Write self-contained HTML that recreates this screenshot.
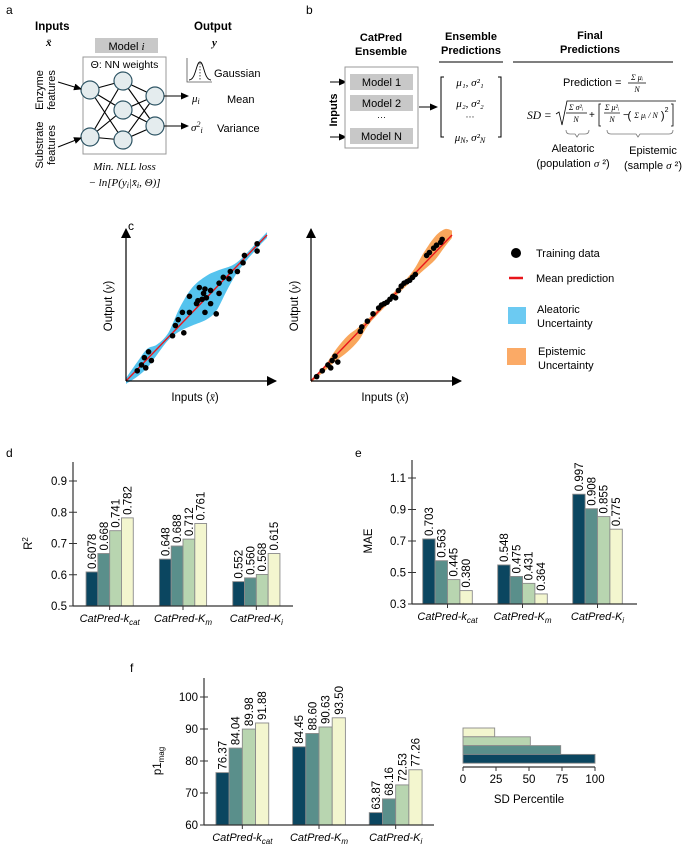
<!DOCTYPE html>
<html><head><meta charset="utf-8">
<style>
html,body{margin:0;padding:0;background:#fff;}
svg{display:block;font-family:"Liberation Sans",sans-serif;}
.serif{font-family:"Liberation Serif",serif;font-style:italic;}
.b{font-weight:bold;}
</style></head>
<body>
<svg id="fig" width="685" height="850" viewBox="0 0 685 850" xmlns="http://www.w3.org/2000/svg">
<defs>
<marker id="arr" markerWidth="8" markerHeight="8" refX="7" refY="4" orient="auto" markerUnits="userSpaceOnUse"><path d="M0,0.5 L8,4 L0,7.5 Z" fill="#000"/></marker>
<marker id="arrBig" markerWidth="10" markerHeight="10" refX="9" refY="5" orient="auto" markerUnits="userSpaceOnUse"><path d="M0,0 L10,5 L0,10 Z" fill="#000"/></marker>
</defs>

<!-- Panel a -->
<g font-size="11">
<text x="6" y="14" font-size="12">a</text>
<text x="35" y="30" class="b" font-size="11.5">Inputs</text>
<text x="46" y="46" class="serif b">x̄</text>
<rect x="95" y="38" width="63" height="15" fill="#c8c8c8"/>
<text x="126.5" y="50" text-anchor="middle">Model <tspan class="serif">i</tspan></text>
<rect x="83" y="57" width="83" height="97" fill="#fff" stroke="#999"/>
<text x="124.5" y="68" text-anchor="middle" font-size="10.5">Θ: NN weights</text>
<g stroke="#000" stroke-width="1.1">
<line x1="90" y1="90" x2="123" y2="81"/><line x1="90" y1="90" x2="123" y2="110"/><line x1="90" y1="90" x2="123" y2="140"/>
<line x1="90" y1="137" x2="123" y2="81"/><line x1="90" y1="137" x2="123" y2="110"/><line x1="90" y1="137" x2="123" y2="140"/>
<line x1="123" y1="81" x2="155" y2="96"/><line x1="123" y1="81" x2="155" y2="126"/>
<line x1="123" y1="110" x2="155" y2="96"/><line x1="123" y1="110" x2="155" y2="126"/>
<line x1="123" y1="140" x2="155" y2="96"/><line x1="123" y1="140" x2="155" y2="126"/>
</g>
<g fill="#e4ecee" stroke="#2e5565" stroke-width="1.2">
<circle cx="90" cy="90" r="9"/><circle cx="90" cy="137" r="9"/>
<circle cx="123" cy="81" r="9"/><circle cx="123" cy="110" r="9"/><circle cx="123" cy="140" r="9"/>
<circle cx="155" cy="96" r="9"/><circle cx="155" cy="126" r="9"/>
</g>
<line x1="58" y1="82" x2="81" y2="89" stroke="#000" marker-end="url(#arr)"/>
<line x1="58" y1="147" x2="81" y2="138" stroke="#000" marker-end="url(#arr)"/>
<text transform="translate(43,90) rotate(-90)" text-anchor="middle"><tspan x="0" dy="0">Enzyme</tspan><tspan x="0" dy="12">features</tspan></text>
<text transform="translate(43,145) rotate(-90)" text-anchor="middle"><tspan x="0" dy="0">Substrate</tspan><tspan x="0" dy="12">features</tspan></text>
<line x1="164" y1="96" x2="188" y2="96" stroke="#000" marker-end="url(#arr)"/>
<line x1="164" y1="126" x2="188" y2="126" stroke="#000" marker-end="url(#arr)"/>
<text x="194" y="30" class="b" font-size="11.5">Output</text>
<text x="212" y="46" class="serif b">y</text>
<path d="M187,58 V82 H212" fill="none" stroke="#555" stroke-width="0.8"/>
<path d="M189,80 C196,80 196,62 200,62 C204,62 204,80 211,80" fill="none" stroke="#000" stroke-width="0.9"/>
<line x1="200" y1="63" x2="200" y2="81" stroke="#000" stroke-width="0.7" stroke-dasharray="1.5,1.5"/>
<text x="214" y="77">Gaussian</text>
<text x="192" y="102" class="serif">μ<tspan font-size="8" dy="2">i</tspan></text>
<text x="227" y="103">Mean</text>
<text x="191" y="131" class="serif">σ<tspan font-size="8" dy="-4">2</tspan><tspan font-size="8" dy="6">i</tspan></text>
<text x="217" y="132">Variance</text>
<text x="124.5" y="170" text-anchor="middle" class="serif">Min. NLL loss</text>
<text x="124.5" y="186" text-anchor="middle" class="serif">− ln[P(y<tspan font-size="8" dy="2">i</tspan><tspan dy="-2">|x̄</tspan><tspan font-size="8" dy="2">i</tspan><tspan dy="-2">, Θ)]</tspan></text>
</g>

<!-- Panel b -->
<g font-size="11">
<text x="306" y="14" font-size="12">b</text>
<text transform="translate(337,110) rotate(-90)" text-anchor="middle" class="b">Inputs</text>
<line x1="330" y1="82" x2="346" y2="82" stroke="#000" marker-end="url(#arr)"/>
<line x1="330" y1="137" x2="346" y2="137" stroke="#000" marker-end="url(#arr)"/>
<text x="381" y="41" text-anchor="middle" class="b"><tspan x="381">CatPred</tspan><tspan x="381" dy="14">Ensemble</tspan></text>
<rect x="345" y="67" width="73" height="81" fill="#fff" stroke="#999"/>
<rect x="350" y="74" width="63" height="16" fill="#c8c8c8"/>
<text x="381.5" y="86" text-anchor="middle">Model 1</text>
<rect x="350" y="95" width="63" height="16" fill="#c8c8c8"/>
<text x="381.5" y="107" text-anchor="middle">Model 2</text>
<text x="381.5" y="120" text-anchor="middle" font-size="9">···</text>
<rect x="350" y="128" width="63" height="16" fill="#c8c8c8"/>
<text x="381.5" y="140" text-anchor="middle">Model N</text>
<line x1="419" y1="107" x2="437" y2="107" stroke="#000" marker-end="url(#arr)"/>
<text x="471" y="40" text-anchor="middle" class="b"><tspan x="471">Ensemble</tspan><tspan x="471" dy="14">Predictions</tspan></text>
<line x1="439" y1="62" x2="503" y2="62" stroke="#333" stroke-width="1.2"/>
<path d="M444,77 H441 V137 H444 M498,77 H501 V137 H498" fill="none" stroke="#000"/>
<g class="serif" text-anchor="middle" font-size="11">
<text x="470" y="86">μ₁, σ²₁</text>
<text x="470" y="107">μ₂, σ²₂</text>
<text x="470" y="120" font-size="9" font-style="normal">···</text>
<text x="470" y="141">μ<tspan font-size="8" dy="2">N</tspan><tspan dy="-2">, σ²</tspan><tspan font-size="8" dy="2">N</tspan></text>
</g>
<text x="590" y="39" text-anchor="middle" class="b"><tspan x="590">Final</tspan><tspan x="590" dy="14">Predictions</tspan></text>
<line x1="513" y1="62" x2="673" y2="62" stroke="#333" stroke-width="1.2"/>
<text x="563" y="86">Prediction =</text>
<text x="637" y="80" text-anchor="middle" font-size="8" class="serif">Σ μᵢ</text>
<line x1="628" y1="83" x2="646" y2="83" stroke="#000" stroke-width="0.7"/>
<text x="637" y="92" text-anchor="middle" font-size="8" class="serif">N</text>
<text x="527" y="119" class="serif" font-size="11.5">SD =</text>
<path d="M556,114 L559,112 L562,125 L567,101 H676" fill="none" stroke="#000" stroke-width="0.8"/>
<text x="576" y="110" text-anchor="middle" font-size="8" class="serif">Σ σ²ᵢ</text>
<line x1="566" y1="113" x2="587" y2="113" stroke="#000" stroke-width="0.7"/>
<text x="576" y="122" text-anchor="middle" font-size="8" class="serif">N</text>
<text x="589" y="118" font-size="10">+</text>
<path d="M601,104 H599 V126 H601 M671,104 H673 V126 H671" fill="none" stroke="#000" stroke-width="0.8"/>
<text x="612" y="110" text-anchor="middle" font-size="8" class="serif">Σ μ²ᵢ</text>
<line x1="604" y1="113" x2="620" y2="113" stroke="#000" stroke-width="0.7"/>
<text x="612" y="122" text-anchor="middle" font-size="8" class="serif">N</text>
<text x="623" y="118" font-size="10">−</text>
<text x="648" y="119" text-anchor="middle" font-size="11">( <tspan font-size="8" dy="-1" class="serif">Σ μᵢ / N</tspan><tspan dy="1"> )</tspan><tspan font-size="7" dy="-7">2</tspan></text>
<path d="M566,130 Q566,134 570,134 H575 L577,137 L579,134 H585 Q589,134 589,130" fill="none" stroke="#777" stroke-width="0.8"/>
<path d="M607,130 Q607,134 611,134 H636 L638,137 L640,134 H669 Q673,134 673,130" fill="none" stroke="#777" stroke-width="0.8"/>
<text x="573" y="152" text-anchor="middle"><tspan x="573">Aleatoric</tspan><tspan x="573" dy="15">(population <tspan class="serif">σ</tspan> ²)</tspan></text>
<text x="653" y="154" text-anchor="middle"><tspan x="653">Epistemic</tspan><tspan x="653" dy="15">(sample <tspan class="serif">σ</tspan> ²)</tspan></text>
</g>

<!-- Panel c -->
<g font-size="11.5">
<text x="128" y="230" font-size="12">c</text>
<g id="c-left"></g>
<g id="c-right"></g>
<text x="195" y="401" text-anchor="middle">Inputs (<tspan class="serif">x̄</tspan>)</text>
<text x="385" y="401" text-anchor="middle">Inputs (<tspan class="serif">x̄</tspan>)</text>
<text transform="translate(112,306) rotate(-90)" text-anchor="middle">Output (<tspan class="serif">y</tspan>)</text>
<text transform="translate(298,306) rotate(-90)" text-anchor="middle">Output (<tspan class="serif">y</tspan>)</text>
<g font-size="11">
<circle cx="516" cy="253" r="5" fill="#000"/>
<text x="536" y="257">Training data</text>
<line x1="509" y1="278" x2="523" y2="278" stroke="#e8151b" stroke-width="2.5"/>
<text x="536" y="282">Mean prediction</text>
<rect x="508" y="307" width="18" height="17" fill="#6ccaf2"/>
<text x="537" y="313"><tspan x="537">Aleatoric</tspan><tspan x="537" dy="14">Uncertainty</tspan></text>
<rect x="507" y="348" width="19" height="17" fill="#fbaa66"/>
<text x="538" y="355"><tspan x="538">Epistemic</tspan><tspan x="538" dy="14">Uncertainty</tspan></text>
</g>
</g>

<!-- Panels d, e, f -->
<text x="6" y="457" font-size="12">d</text>
<text x="355" y="457" font-size="12">e</text>
<text x="130" y="672" font-size="12">f</text>
<g id="chart-d"></g>
<g id="chart-e"></g>
<g id="chart-f"></g>
<g id="chart-sd"></g>
</svg>

<script>
// ---- shared data ----
const categories = ["kcat", "Km", "Ki"];
const seriesColors = ["#0b4660", "#5a8f8b", "#b8d5b0", "#f3f6cf"];

// Panel d (R2)
const r2Values = [[0.609, 0.668, 0.741, 0.782], [0.650, 0.692, 0.714, 0.764], [0.578, 0.590, 0.601, 0.668]];
const r2Labels = [["0.6078", "0.668", "0.741", "0.782"], ["0.648", "0.688", "0.712", "0.761"], ["0.552", "0.560", "0.568", "0.615"]];
const r2Ticks = [0.5, 0.6, 0.7, 0.8, 0.9];

// Panel e (MAE)
const maeValues = [[0.713, 0.575, 0.455, 0.385], [0.548, 0.475, 0.431, 0.364], [0.997, 0.905, 0.855, 0.775]];
const maeLabels = [["0.703", "0.563", "0.445", "0.380"], ["0.548", "0.475", "0.431", "0.364"], ["0.997", "0.908", "0.855", "0.775"]];
const maeTicks = [0.3, 0.5, 0.7, 0.9, 1.1];

// Panel f (p1mag)
const p1Values = [[76.37, 84.04, 89.98, 91.88], [84.45, 88.60, 90.63, 93.50], [63.87, 68.16, 72.53, 77.26]];
const p1Labels = [["76.37", "84.04", "89.98", "91.88"], ["84.45", "88.60", "90.63", "93.50"], ["63.87", "68.16", "72.53", "77.26"]];
const p1Ticks = [60, 70, 80, 90, 100];

// SD percentile legend chart
const sdPercentiles = [24, 51, 74, 100];
const sdTicks = [0, 25, 50, 75, 100];

// Panel c schematic data (percent of axis)
const aleatoricPoints = [[8,7],[11,11],[14,9],[13,16],[16,20],[18,14],[33,31],[35,38],[37,42],[40,47],[41,33],[45,47],[45,58],[50,53],[51,55],[52,64],[54,56],[55,60],[56,63],[56,47],[57,57],[60,62],[60,53],[64,46],[66,67],[66,60],[69,71],[73,70],[74,75],[79,75],[83,81],[84,86],[93,94],[93,89]];
const aleatoricUpper = [[0,2],[8,13],[15,22],[22,25],[30,33],[38,50],[47,64],[57,72],[66,76],[75,79],[82,84],[90,92],[100,102]];
const aleatoricLower = [[0,-2],[8,3],[15,9],[22,18],[30,28],[38,34],[47,38],[57,42],[64,48],[71,61],[78,73],[85,82],[95,93],[100,98]];
const epistemicPoints = [[4,3],[8,7],[12,11],[14,9],[15,14],[17,17],[19,13],[35,34],[36,37],[40,41],[44,46],[48,50],[50,52],[52,53],[54,54],[56,56],[58,58],[60,57],[62,62],[64,65],[66,67],[68,68],[70,69],[72,71],[74,73],[82,86],[84,88],[87,91],[89,93],[92,95],[93,97]];
const epistemicUpper = [[0,1],[10,11],[18,22],[26,31],[34,37],[42,44],[60,62],[72,75],[80,88],[88,99],[95,104],[100,103]];
const epistemicLower = [[0,-1],[10,7],[18,14],[26,20],[34,28],[42,40],[60,58],[72,69],[80,76],[88,83],[95,92],[100,98]];

const NS = "http://www.w3.org/2000/svg";
function mk(tag, attrs, parent) {
  const el = document.createElementNS(NS, tag);
  for (const k in attrs) el.setAttribute(k, attrs[k]);
  parent.appendChild(el);
  return el;
}

function catLabel(g, x, y, i) {
  const t = mk("text", {x: x, y: y, "text-anchor": "middle", "font-size": "11", "font-style": "italic"}, g);
  
  
  const main = ["CatPred-k", "CatPred-K", "CatPred-K"][i];
  const sub = ["cat", "m", "i"][i];
  t.appendChild(document.createTextNode(main));
  const s = mk("tspan", {"font-size": "8", dy: "3"}, t);
  s.textContent = sub;
}

function barChart(gid, values, labels, ticks, cfg) {
  const g = document.getElementById(gid);
  const y = v => cfg.y0 - (v - ticks[0]) / (ticks[ticks.length - 1] - ticks[0]) * (cfg.y0 - cfg.yTop);
  const band = (cfg.x1 - cfg.x0) / values.length;
  values.forEach((grp, gi) => {
    const cx = cfg.x0 + (gi + 0.5) * band + cfg.shift;
    grp.forEach((v, si) => {
      const bx = cx - grp.length * cfg.bw / 2 + si * cfg.bw;
      const r = mk("rect", {x: bx, y: y(v), width: cfg.bw, height: cfg.y0 - y(v), fill: seriesColors[si], stroke: "#8a8a8a", "stroke-width": "0.9"}, g);
      
      
      const lx = bx + cfg.bw / 2 + 4;
      const ly = y(v) - 3;
      const t = mk("text", {x: lx, y: ly, transform: "rotate(-90 " + lx + " " + ly + ")", "font-size": "11.5"}, g);
      
      
      t.textContent = labels[gi][si];
    });
    mk("line", {x1: cx, x2: cx, y1: cfg.y0, y2: cfg.y0 + 4, stroke: "#333"}, g);
    catLabel(g, cx, cfg.y0 + 16, gi);
  });
  const ya = mk("line", {x1: cfg.x0, x2: cfg.x0, y1: cfg.axTop, y2: cfg.y0, stroke: "#333", "stroke-width": "1.2"}, g);
  
  
  const xa = mk("line", {x1: cfg.x0, x2: cfg.x1, y1: cfg.y0, y2: cfg.y0, stroke: "#333", "stroke-width": "1.2"}, g);
  
  
  ticks.forEach(tv => {
    mk("line", {x1: cfg.x0 - 4, x2: cfg.x0 + 4, y1: y(tv), y2: y(tv), stroke: "#333"}, g);
    const t = mk("text", {x: cfg.x0 - 6, y: y(tv) + 4, "text-anchor": "end", "font-size": "11.5"}, g);
    
    
    t.textContent = cfg.fmt(tv);
  });
  const yt = mk("text", {transform: "translate(" + cfg.titleX + "," + ((cfg.y0 + cfg.yTop) / 2) + ") rotate(-90)", "text-anchor": "middle", "font-size": "11.5"}, g);
  
  
  yt.appendChild(document.createTextNode(cfg.title));
  if (cfg.sup) { const s = mk("tspan", {"font-size": "8", dy: "-4"}, yt); s.textContent = cfg.sup; }
  if (cfg.sub) { const s = mk("tspan", {"font-size": "8", dy: "3"}, yt); s.textContent = cfg.sub; }
}

barChart("chart-d", r2Values, r2Labels, r2Ticks, {x0: 73, x1: 293, y0: 606, yTop: 481, axTop: 462, bw: 11.8, shift: 0, titleX: 32, title: "R", sup: "2", fmt: v => v.toFixed(1)});
barChart("chart-e", maeValues, maeLabels, maeTicks, {x0: 412, x1: 637, y0: 604, yTop: 478, axTop: 460, bw: 12.4, shift: -2, titleX: 372, title: "MAE", fmt: v => v.toFixed(1)});
barChart("chart-f", p1Values, p1Labels, p1Ticks, {x0: 204, x1: 434, y0: 825, yTop: 697, axTop: 678, bw: 13.2, shift: 0, titleX: 161, title: "p1", sub: "mag", fmt: v => String(v)});

// SD percentile horizontal bars
(function () {
  const g = document.getElementById("chart-sd");
  const x = v => 463 + v * 1.32;
  const barH = 8.8, top = 728;
  sdPercentiles.forEach((v, i) => {
    const idx = sdPercentiles.length - 1 - i;
    const r = mk("rect", {x: x(0), y: top + i * barH, width: x(v) - x(0), height: barH, fill: seriesColors[idx], stroke: "#8a8a8a", "stroke-width": "0.9"}, g);
    
    
  });
  mk("line", {x1: x(0), x2: x(100), y1: 767, y2: 767, stroke: "#333", "stroke-width": "1.2"}, g);
  sdTicks.forEach(tv => {
    mk("line", {x1: x(tv), x2: x(tv), y1: 767, y2: 771, stroke: "#333"}, g);
    const t = mk("text", {x: x(tv), y: 783, "text-anchor": "middle", "font-size": "11.5"}, g);
    
    
    t.textContent = tv;
  });
  const tt = mk("text", {x: x(50), y: 803, "text-anchor": "middle", "font-size": "11.5"}, g);
  
  
  tt.textContent = "SD Percentile";
})();

// Panel c schematics
function schematic(gid, ox, pts, up, lo, fill) {
  const g = document.getElementById(gid);
  const oy = 381, W = 141, H = 146;
  const sx = v => ox + v / 100 * W;
  const sy = v => oy - v / 100 * H;
  // Catmull-Rom spline through points
  function spline(arr, start) {
    const P = arr.map(p => [sx(p[0]), sy(p[1])]);
    let d = (start ? "M" : " L") + P[0][0] + "," + P[0][1];
    for (let i = 0; i < P.length - 1; i++) {
      const p0 = P[Math.max(0, i - 1)], p1 = P[i], p2 = P[i + 1], p3 = P[Math.min(P.length - 1, i + 2)];
      const c1x = p1[0] + (p2[0] - p0[0]) / 6, c1y = p1[1] + (p2[1] - p0[1]) / 6;
      const c2x = p2[0] - (p3[0] - p1[0]) / 6, c2y = p2[1] - (p3[1] - p1[1]) / 6;
      d += " C" + c1x + "," + c1y + " " + c2x + "," + c2y + " " + p2[0] + "," + p2[1];
    }
    return d;
  }
  const band = mk("path", {d: spline(up, true) + spline(lo.slice().reverse(), false) + " Z", fill: fill, stroke: "none"}, g);
  
  
  const ln = mk("line", {x1: sx(0), y1: sy(0), x2: sx(100), y2: sy(100), stroke: "#e8151b", "stroke-width": "1.4"}, g);
  
  
  pts.forEach(p => {
    const c = mk("circle", {cx: sx(p[0]), cy: sy(p[1]), r: 2.8, fill: "#000"}, g);
    
    
  });
  const ya = mk("line", {x1: ox, y1: oy, x2: ox, y2: 229, stroke: "#000", "stroke-width": "1.2", "marker-end": "url(#arrBig)"}, g);
  
  
  const xa = mk("line", {x1: ox, y1: oy, x2: ox + 150, y2: oy, stroke: "#000", "stroke-width": "1.2", "marker-end": "url(#arrBig)"}, g);
  
  
}
schematic("c-left", 126, aleatoricPoints, aleatoricUpper, aleatoricLower, "#55c3ee");
schematic("c-right", 311, epistemicPoints, epistemicUpper, epistemicLower, "#f9a65c");
</script>
</body></html>
